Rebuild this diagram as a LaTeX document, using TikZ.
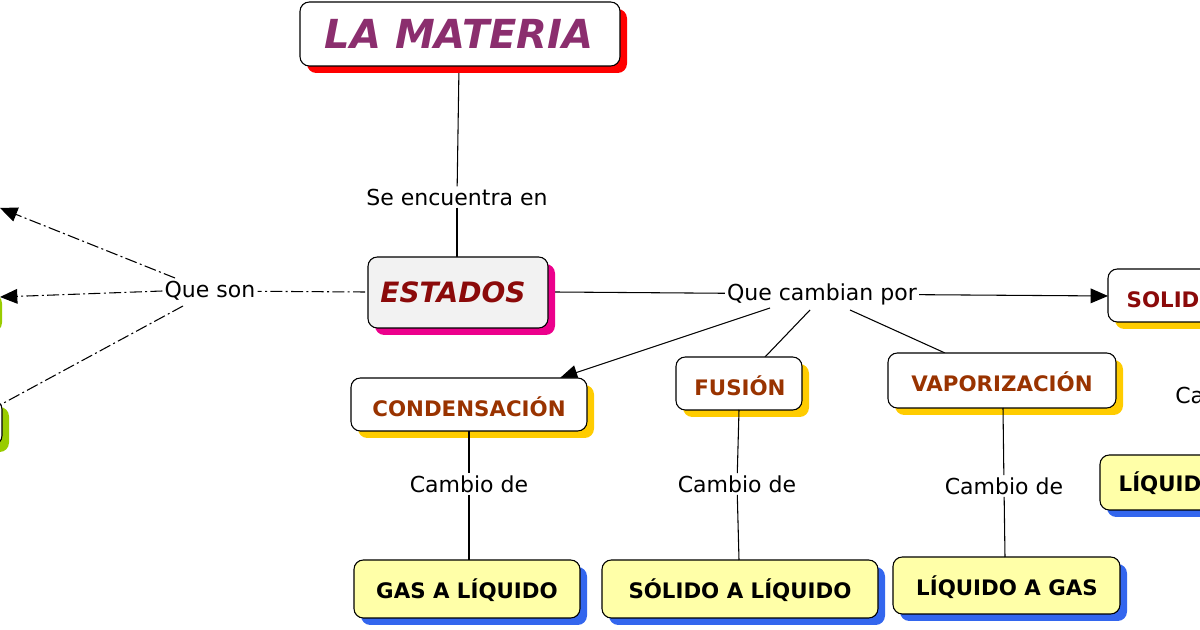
\documentclass[tikz,border=0pt]{standalone}
\usepackage{fontspec}
\setmainfont{DejaVu Sans}
\usetikzlibrary{arrows.meta}
\definecolor{tred}{HTML}{8B0A0A}
\definecolor{tbrown}{HTML}{993300}
\definecolor{ttitle}{HTML}{8B2E6E}
\definecolor{yshadow}{HTML}{FFCC00}
\definecolor{bshadow}{HTML}{3366EE}
\definecolor{gshadow}{HTML}{99CC00}
\definecolor{lyellow}{HTML}{FFFFA8}
\tikzset{
  box/.style={draw=black,rounded corners=7pt,line width=0.8pt,fill=white},
  lbl/.style={font=\fontsize{16.5}{19}\selectfont,fill=white,inner sep=1.5pt},
  btxt/.style={font=\fontsize{16}{19}\selectfont\bfseries},
  conn/.style={draw=black,line width=0.8pt},
  dd/.style={conn,dash pattern=on 9pt off 2.5pt on 1.5pt off 2.5pt},
  tip/.style={-{Triangle[length=13pt,width=11pt]}}
}
\newcommand{\mybox}[7]{% name x1 y1 x2 y2 fill shadow
  \fill[#7,rounded corners=7pt] ({#2+7},{#3+7}) rectangle ({#4+7},{#5+7});
  \draw[box,fill=#6] (#2,#3) rectangle (#4,#5);
  \coordinate (#1) at ({(#2+#4)/2},{(#3+#5)/2});
}
\begin{document}
\begin{tikzpicture}[x=0.75pt,y=-0.75pt]
\useasboundingbox (0,0) rectangle (1200,630);
\clip (0,0) rectangle (1200,630);
\coordinate (mat) at (459,66);
\node[lbl] (se) at (457,197) {Se encuentra en};
\node[lbl] (qs) at (210,291) {Que son};
\node[lbl] (qc) at (822,294) {Que cambian por};
\draw[conn] (mat) -- (se);
\draw[conn] (se) -- (457,257);
\draw[conn] (555,292) -- (qc);
\draw[conn,tip] (qc) -- (1108,296);
\draw[conn,tip] (770,308) -- (560,378);
\draw[conn] (810,310) -- (765,357);
\draw[conn] (850,310) -- (945,353);
\draw[dd] (365,292) -- (qs);
\draw[dd,tip] (175,278) -- (0,208);
\draw[dd,tip] (qs.west) -- (0,297);
\draw[dd] (183,306) -- (0,405);
\mybox{lamateria}{300}{2}{620}{66}{white}{red}
\node[font=\fontsize{30}{32}\selectfont\bfseries\itshape\rmfamily,text=ttitle] at (459,34) {LA MATERIA};
\mybox{estados}{368}{257}{548}{328}{gray!10}{magenta}
\node[font=\fontsize{21}{24}\selectfont\bfseries\itshape,text=tred] at (453,292) {ESTADOS};
\mybox{solid}{1108}{269}{1230}{322}{white}{yshadow}
\node[btxt,text=tred,anchor=west] at (1122,298) {SOLIDIFICACIÓN};
\mybox{cond}{351}{378}{587}{431}{white}{yshadow}
\node[btxt,text=tbrown] at (469,407) {CONDENSACIÓN};
\mybox{fus}{676}{357}{802}{410}{white}{yshadow}
\node[btxt,text=tbrown] at (740,386) {FUSIÓN};
\mybox{vap}{888}{353}{1116}{408}{white}{yshadow}
\node[btxt,text=tbrown] at (1002,382) {VAPORIZACIÓN};
\mybox{gl}{354}{560}{580}{618}{lyellow}{bshadow}
\node[btxt] at (467,590) {GAS A LÍQUIDO};
\mybox{sl}{602}{560}{878}{618}{lyellow}{bshadow}
\node[btxt] at (740,590) {SÓLIDO A LÍQUIDO};
\mybox{lg}{893}{557}{1120}{614}{lyellow}{bshadow}
\node[btxt] at (1007,587) {LÍQUIDO A GAS};
\mybox{lq}{1100}{455}{1260}{510}{lyellow}{bshadow}
\node[btxt,anchor=west] at (1114,483) {LÍQUIDO A SÓLIDO};
\mybox{g1}{-100}{400}{2}{445}{white}{gshadow}
\mybox{g2}{-100}{287}{-5}{325}{white}{gshadow}
\node[lbl] (c1) at (469,484) {Cambio de};
\node[lbl] (c2) at (737,484) {Cambio de};
\node[lbl] (c3) at (1004,486) {Cambio de};
\node[lbl,anchor=west] (c4) at (1173,395) {Cambio de};
\draw[conn] (469,431) -- (c1); \draw[conn] (c1) -- (469,560);
\draw[conn] (739,410) -- (c2); \draw[conn] (c2) -- (739,560);
\draw[conn] (1003,408) -- (c3); \draw[conn] (c3) -- (1005,557);
\end{tikzpicture}
\end{document}
